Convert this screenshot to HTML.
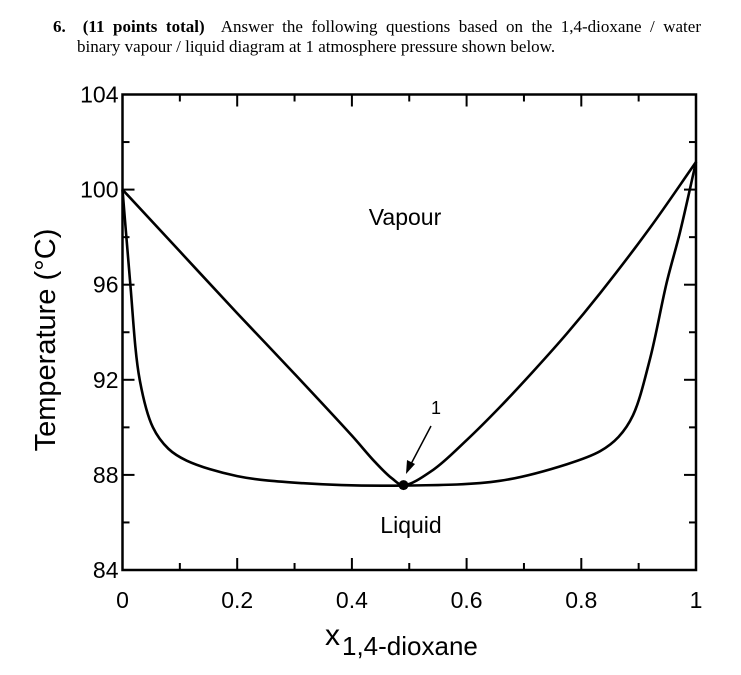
<!DOCTYPE html>
<html><head><meta charset="utf-8"><style>
body{margin:0;background:#fff;width:741px;height:675px;overflow:hidden;}
.hdr{position:absolute;left:53px;top:17px;width:648px;font-family:"Liberation Serif",serif;font-size:17px;line-height:20px;}
.l1{text-align:justify;text-align-last:justify;display:block;}
</style></head><body>
<div class="hdr"><span class="l1"><b>6.&nbsp; (11 points total)</b>&nbsp; Answer the following questions based on the 1,4-dioxane / water</span><span style="padding-left:24px">binary vapour / liquid diagram at 1 atmosphere pressure shown below.</span></div>
<svg id="c" width="741" height="675" style="position:absolute;left:0;top:0" font-family="Liberation Sans, sans-serif"></svg>
<script>
const xTicks=[0,0.2,0.4,0.6,0.8,1];
const xTickLabels=["0","0.2","0.4","0.6","0.8","1"];
const yTicks=[84,88,92,96,100,104];
const yTickLabels=["84","88","92","96","100","104"];
const dewX=[0,0.1,0.2,0.3,0.4,0.44,0.47,0.49,0.541,0.6,0.658,0.716,0.775,0.833,0.92,1];
const dewT=[100,97.4,94.8,92.25,89.65,88.55,87.85,87.57,88.2,89.46,90.85,92.35,93.95,95.65,98.4,101.16];
const bubX=[0,0.013,0.03,0.053,0.08,0.112,0.2,0.315,0.49,0.658,0.775,0.833,0.865,0.89,0.92,0.949,0.972,1];
const bubT=[100,96.2,92,90.0,89.1,88.6,87.95,87.65,87.55,87.75,88.45,89.0,89.6,90.5,92.9,96.1,98.2,101.16];
const azeoX=[0.49], azeoT=[87.57];
const L=122.5,R=696,T=94.5,B=570;
const sx=v=>L+(R-L)*v, sy=v=>B-(B-T)*(v-84)/20;
const svg=document.getElementById('c');const NS='http://www.w3.org/2000/svg';
function el(t,a,txt){const e=document.createElementNS(NS,t);for(const k in a)e.setAttribute(k,a[k]);if(txt!=null)e.textContent=txt;svg.appendChild(e);return e;}
let f=el('rect',{x:L,y:T,width:R-L,height:B-T,fill:'none',stroke:'#000','stroke-width':2.5});

for(let i=0;i<=10;i++){const x=sx(i/10),len=i%2?7:12;
 el('line',{x1:x,y1:B,x2:x,y2:B-len,stroke:'#000','stroke-width':2});
 el('line',{x1:x,y1:T,x2:x,y2:T+len,stroke:'#000','stroke-width':2});}
for(let v=84;v<=104;v+=2){const y=sy(v),len=(v%4)?7:12;
 el('line',{x1:L,y1:y,x2:L+len,y2:y,stroke:'#000','stroke-width':2});
 el('line',{x1:R,y1:y,x2:R-len,y2:y,stroke:'#000','stroke-width':2});}
xTicks.forEach((v,i)=>{const t=el('text',{x:sx(v),y:608,'font-size':23,'text-anchor':'middle'},xTickLabels[i]);
 });
yTicks.forEach((v,i)=>{const t=el('text',{x:L-4,y:sy(v)+8,'font-size':23,'text-anchor':'end'},yTickLabels[i]);
 });
function smooth(xs,ts){
 const p=xs.map((x,i)=>[sx(x),sy(ts[i])]);const n=p.length;
 const P=i=>{if(i<0)return [2*p[0][0]-p[1][0],2*p[0][1]-p[1][1]];if(i>=n)return [2*p[n-1][0]-p[n-2][0],2*p[n-1][1]-p[n-2][1]];return p[i];};
 const dist=(a,b)=>Math.max(1e-6,Math.pow(Math.hypot(a[0]-b[0],a[1]-b[1]),0.5));
 let d='M'+p[0];
 for(let i=0;i<n-1;i++){const p0=P(i-1),p1=P(i),p2=P(i+1),p3=P(i+2);
  const d1=dist(p0,p1),d2=dist(p1,p2),d3=dist(p2,p3);
  const c1=[0,1].map(k=>(d1*d1*p2[k]-d2*d2*p0[k]+(2*d1*d1+3*d1*d2+d2*d2)*p1[k])/(3*d1*(d1+d2)));
  const c2=[0,1].map(k=>(d3*d3*p1[k]-d2*d2*p3[k]+(2*d3*d3+3*d3*d2+d2*d2)*p2[k])/(3*d3*(d3+d2)));
  d+=' C'+c1+' '+c2+' '+p2;}
 return d;}
let a=el('path',{d:smooth(dewX,dewT),fill:'none',stroke:'#000','stroke-width':2.6,'stroke-linejoin':'round'});

let b=el('path',{d:smooth(bubX,bubT),fill:'none',stroke:'#000','stroke-width':2.6,'stroke-linejoin':'round'});

let dot=el('circle',{cx:sx(azeoX[0]),cy:sy(azeoT[0]),r:5,fill:'#000'});

el('line',{x1:431,y1:426,x2:411,y2:464,stroke:'#000','stroke-width':1.5});
el('path',{d:'M406,474 L407,460 L415,464 Z',fill:'#000'});
let n=el('text',{x:436,y:414,'font-size':18,'text-anchor':'middle'},'1');

let vp=el('text',{x:405,y:225,'font-size':23,'text-anchor':'middle'},'Vapour');

let lq=el('text',{x:411,y:533,'font-size':23,'text-anchor':'middle'},'Liquid');

let yt=el('text',{x:0,y:0,'font-size':29,'text-anchor':'middle',transform:'translate(55,340) rotate(-90)'},'Temperature (°C)');

let xt=el('text',{x:325,y:645,'font-size':30},'x');

let xs=el('text',{x:342,y:655,'font-size':26},'1,4-dioxane');

</script>
</body></html>
